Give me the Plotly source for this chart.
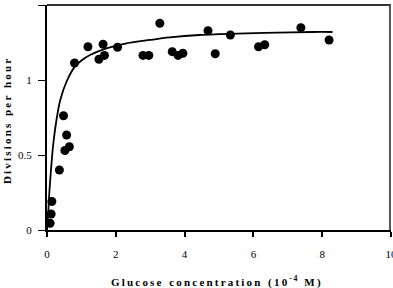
import plotly.graph_objects as go

# Measured data points (glucose conc. in 1e-4 M, divisions per hour)
glucose = [0.09, 0.12, 0.14, 0.36, 0.52, 0.65, 0.57, 0.48,
           0.80, 1.19, 1.63, 1.51, 1.67, 2.05, 2.79, 2.96, 3.28,
           3.64, 3.81, 3.95, 4.68, 4.89, 5.33, 6.15, 6.33,
           7.38, 8.20]
divisions = [0.045, 0.107, 0.19, 0.40, 0.53, 0.555, 0.633, 0.762,
             1.113, 1.222, 1.238, 1.138, 1.164, 1.218, 1.164, 1.164, 1.378,
             1.189, 1.164, 1.178, 1.329, 1.175, 1.30, 1.222, 1.235,
             1.349, 1.267]

# Fitted curve
curve_x = [0.0, 0.03, 0.067, 0.116, 0.174, 0.26, 0.386, 0.57, 0.81, 1.0,
           1.25, 1.73, 2.31, 2.99, 3.57, 4.43, 5.79, 6.70, 7.72, 8.30]
curve_y = [0.0, 0.089, 0.245, 0.40, 0.555, 0.71, 0.867, 0.99, 1.089, 1.13,
           1.167, 1.211, 1.244, 1.267, 1.284, 1.30, 1.311, 1.316, 1.32, 1.32]

x_ticks = [0, 2, 4, 6, 8, 10]
y_ticks = [0, 0.5, 1, 1.5]
y_tick_text = ["0", "0.5", "1", "1.5"]

x_title = "Glucose concentration (10<sup>-4</sup> M)"
y_title = "Divisions per hour"

FONT = "Liberation Serif, Times New Roman, serif"

def spaced(s):
    # letter-spaced look of the original axis titles
    out = []
    i = 0
    while i < len(s):
        if s[i] == "<":
            j = s.index(">", i)
            out.append(s[i:j + 1])
            i = j + 1
            continue
        out.append(s[i])
        out.append("\u2009" if s[i] != " " else "")
        i += 1
    return "".join(out).replace(" ", "\u2002")

fig = go.Figure()
fig.add_trace(go.Scatter(x=curve_x, y=curve_y, mode="lines",
                         line=dict(color="black", width=1.8, shape="spline"),
                         hoverinfo="skip"))
fig.add_trace(go.Scatter(x=glucose, y=divisions, mode="markers",
                         marker=dict(color="black", size=9)))

fig.update_layout(
    width=393, height=288,
    margin=dict(l=47, r=2, t=5, b=58),
    paper_bgcolor="white", plot_bgcolor="white",
    showlegend=False,
    font=dict(family=FONT, color="black", size=11),
    shapes=[
        dict(type="line", xref="paper", yref="paper", x0=0, x1=1, y0=1, y1=1,
             line=dict(color="#333333", width=2)),
        dict(type="line", xref="paper", yref="paper", x0=0.997, x1=0.997, y0=0, y1=1,
             line=dict(color="#555555", width=2)),
    ],
    annotations=[
        dict(text="<b>" + spaced(x_title) + "</b>", xref="paper", yref="paper",
             x=0.494, y=-0.231, xanchor="center", yanchor="middle",
             showarrow=False, font=dict(family=FONT, size=11, color="black")),
        dict(text="<b>" + spaced(y_title) + "</b>", xref="paper", yref="paper",
             x=-0.116, y=0.489, xanchor="center", yanchor="middle", textangle=-90,
             showarrow=False, font=dict(family=FONT, size=11, color="black")),
    ],
)
fig.update_xaxes(
    range=[0, 10], tickvals=x_ticks, showgrid=False, zeroline=False,
    showline=True, linecolor="black", linewidth=2, automargin=False,
    ticks="outside", ticklen=5, tickwidth=2, tickcolor="black",
    ticklabelstandoff=8, ticklabeloverflow="allow",
    tickfont=dict(family=FONT, size=11, color="black"),
)
fig.update_yaxes(
    range=[0, 1.5], tickvals=y_ticks, ticktext=y_tick_text,
    showgrid=False, zeroline=False,
    showline=True, linecolor="black", linewidth=2, automargin=False,
    ticks="outside", ticklen=7, tickwidth=1, tickcolor="black",
    ticklabelstandoff=4,
    tickfont=dict(family=FONT, size=11, color="black"),
)

fig.write_html("out.html", config={"displayModeBar": False},
               post_script="document.body.style.margin='0px';document.body.style.overflow='hidden';")
